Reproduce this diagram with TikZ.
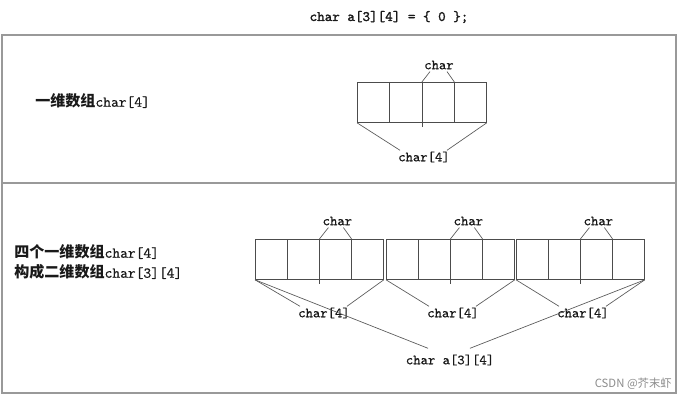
\documentclass[tikz,border=0pt]{standalone}
\usepackage{fontspec}
\newfontfamily\cjk{Noto Sans CJK SC}
\newfontfamily\codefont{Latin Modern Mono}[FakeBold=0.6]
\newfontfamily\codebold{Latin Modern Mono}[FakeBold=1.6]
\usetikzlibrary{calc}
\begin{document}
\begin{tikzpicture}[x=0.75pt,y=-0.75pt,
  frame/.style={draw=black!40, line width=0.9pt},
  cell/.style={draw=black!70, line width=0.6pt},
  conn/.style={draw=black!65, line width=0.5pt},
  lbl/.style={font=\codefont\fontsize{10.5}{12}\selectfont, text=black!90, inner sep=0pt},
  side/.style={anchor=west, inner sep=0pt, text=black!90, font=\fontsize{11.3}{13}\selectfont},
  arr/.style={cell, minimum width=96pt, minimum height=30pt, inner sep=0pt, anchor=north west}
]
\useasboundingbox[fill=white] (0,0) rectangle (686,403);

% title
\node[lbl, font=\codebold\fontsize{10.8}{12}\selectfont] (title) at (389,17) {char a[3][4] = \{ 0 \};};

% frame
\draw[frame] (2,35) rectangle (676,393);
\draw[frame] (2,183) -- (676,183);

% ---------- top section ----------
\node[side] (l1) at (35,101) {{\cjk\bfseries 一维数组}{\codefont char[4]}};

\node[arr, minimum width=96.75pt] (t) at (357,82) {};
\foreach \f in {0.25,0.75}
  \draw[cell] ($(t.north west)!\f!(t.north east)$) -- ($(t.south west)!\f!(t.south east)$);
\draw[cell] ($(t.north west)!0.5!(t.north east)$) -- ($(t.south west)!0.5!(t.south east)+(0,4)$);

\node[lbl] (tc) at (439,65) {char};
\draw[conn] ($(t.north west)!0.5!(t.north east)$) -- ($(tc.south)+(-9,2)$);
\draw[conn] ($(t.north west)!0.75!(t.north east)$) -- ($(tc.south)+(8,2)$);

\node[lbl] (t4) at (424,157) {char[4]};
\draw[conn] (t.south west) -- ($(t4.north west)+(2,-1)$);
\draw[conn] (t.south east) -- ($(t4.north east)+(-3,-1)$);

% ---------- bottom section ----------
\node[side] (l2) at (14,252) {{\cjk\bfseries 四个一维数组}{\codefont char[4]}};
\node[side] (l3) at (14,272) {{\cjk\bfseries 构成二维数组}{\codefont char[3][4]}};

\foreach \n/\x/\lx in {a/255/324, b/386/453, c/516/583} {
  \node[arr] (\n) at (\x,239) {};
  \foreach \f in {0.25,0.75}
    \draw[cell] ($(\n.north west)!\f!(\n.north east)$) -- ($(\n.south west)!\f!(\n.south east)$);
  \draw[cell] ($(\n.north west)!0.5!(\n.north east)$) -- ($(\n.south west)!0.5!(\n.south east)+(0,4)$);
  \node[lbl] (\n c) at ($(\n.north)+(18,-18)$) {char};
  \draw[conn] ($(\n.north west)!0.5!(\n.north east)$) -- ($(\n c.south)+(-9,2)$);
  \draw[conn] ($(\n.north west)!0.75!(\n.north east)$) -- ($(\n c.south)+(6,2)$);
  \node[lbl] (\n 4) at (\lx,313) {char[4]};
  \draw[conn] (\n.south west) -- ($(\n 4.north west)+(2,-1)$);
  \draw[conn] (\n.south east) -- ($(\n 4.north east)+(-3,-1)$);
}

\node[lbl] (all) at (450,360) {char a[3][4]};
\draw[conn] (a.south west) -- ($(all.north)+(-22,-6)$);
\draw[conn] (c.south east) -- ($(all.north)+(20,-6)$);

% watermark
\node[anchor=east, inner sep=0pt, text=black!45, font=\cjk\fontsize{8.5}{10}\selectfont] (wm) at (672,384) {CSDN @芥末虾};
\end{tikzpicture}
\end{document}
